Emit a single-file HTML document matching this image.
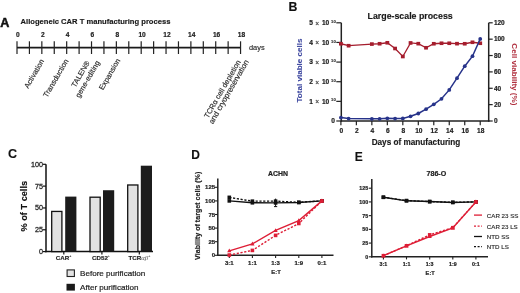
<!DOCTYPE html>
<html><head><meta charset="utf-8"><title>CAR T figure</title>
<style>
html,body{margin:0;padding:0;background:#fff;}
body{width:520px;height:293px;overflow:hidden;}
svg{display:block;font-family:"Liberation Sans", Arial, Helvetica, sans-serif;}
</style></head>
<body>
<svg width="520" height="293" viewBox="0 0 520 293">
<rect width="520" height="293" fill="#fff"/>
<text x="0.30" y="26.80" font-size="12.6" font-weight="bold" text-anchor="start" fill="#111" stroke="#111" stroke-width="0.5">A</text>
<text x="20.60" y="24.10" font-size="7.6" font-weight="bold" text-anchor="start" fill="#1a1a1a" stroke="#1a1a1a" stroke-width="0.15">Allogeneic CAR T manufacturing process</text>
<text x="17.90" y="37.20" font-size="6.6" font-weight="bold" text-anchor="middle" fill="#222" stroke="#222" stroke-width="0.2">0</text>
<text x="42.74" y="37.20" font-size="6.6" font-weight="bold" text-anchor="middle" fill="#222" stroke="#222" stroke-width="0.2">2</text>
<text x="67.58" y="37.20" font-size="6.6" font-weight="bold" text-anchor="middle" fill="#222" stroke="#222" stroke-width="0.2">4</text>
<text x="92.42" y="37.20" font-size="6.6" font-weight="bold" text-anchor="middle" fill="#222" stroke="#222" stroke-width="0.2">6</text>
<text x="117.26" y="37.20" font-size="6.6" font-weight="bold" text-anchor="middle" fill="#222" stroke="#222" stroke-width="0.2">8</text>
<text x="142.10" y="37.20" font-size="6.6" font-weight="bold" text-anchor="middle" fill="#222" stroke="#222" stroke-width="0.2">10</text>
<text x="166.94" y="37.20" font-size="6.6" font-weight="bold" text-anchor="middle" fill="#222" stroke="#222" stroke-width="0.2">12</text>
<text x="191.78" y="37.20" font-size="6.6" font-weight="bold" text-anchor="middle" fill="#222" stroke="#222" stroke-width="0.2">14</text>
<text x="216.62" y="37.20" font-size="6.6" font-weight="bold" text-anchor="middle" fill="#222" stroke="#222" stroke-width="0.2">16</text>
<text x="241.46" y="37.20" font-size="6.6" font-weight="bold" text-anchor="middle" fill="#222" stroke="#222" stroke-width="0.2">18</text>
<line x1="17.00" y1="47.60" x2="240.56" y2="47.60" stroke="#1a1a1a" stroke-width="1.6"/>
<line x1="17.00" y1="41.30" x2="17.00" y2="54.00" stroke="#222" stroke-width="1.2"/>
<line x1="29.42" y1="41.30" x2="29.42" y2="54.00" stroke="#222" stroke-width="1.2"/>
<line x1="41.84" y1="41.30" x2="41.84" y2="54.00" stroke="#222" stroke-width="1.2"/>
<line x1="54.26" y1="41.30" x2="54.26" y2="54.00" stroke="#222" stroke-width="1.2"/>
<line x1="66.68" y1="41.30" x2="66.68" y2="54.00" stroke="#222" stroke-width="1.2"/>
<line x1="79.10" y1="41.30" x2="79.10" y2="54.00" stroke="#222" stroke-width="1.2"/>
<line x1="91.52" y1="41.30" x2="91.52" y2="54.00" stroke="#222" stroke-width="1.2"/>
<line x1="103.94" y1="41.30" x2="103.94" y2="54.00" stroke="#222" stroke-width="1.2"/>
<line x1="116.36" y1="41.30" x2="116.36" y2="54.00" stroke="#222" stroke-width="1.2"/>
<line x1="128.78" y1="41.30" x2="128.78" y2="54.00" stroke="#222" stroke-width="1.2"/>
<line x1="141.20" y1="41.30" x2="141.20" y2="54.00" stroke="#222" stroke-width="1.2"/>
<line x1="153.62" y1="41.30" x2="153.62" y2="54.00" stroke="#222" stroke-width="1.2"/>
<line x1="166.04" y1="41.30" x2="166.04" y2="54.00" stroke="#222" stroke-width="1.2"/>
<line x1="178.46" y1="41.30" x2="178.46" y2="54.00" stroke="#222" stroke-width="1.2"/>
<line x1="190.88" y1="41.30" x2="190.88" y2="54.00" stroke="#222" stroke-width="1.2"/>
<line x1="203.30" y1="41.30" x2="203.30" y2="54.00" stroke="#222" stroke-width="1.2"/>
<line x1="215.72" y1="41.30" x2="215.72" y2="54.00" stroke="#222" stroke-width="1.2"/>
<line x1="228.14" y1="41.30" x2="228.14" y2="54.00" stroke="#222" stroke-width="1.2"/>
<line x1="240.56" y1="41.30" x2="240.56" y2="54.00" stroke="#222" stroke-width="1.2"/>
<text x="249.00" y="50.00" font-size="7.4" text-anchor="start" fill="#2a2a2a" stroke="#2a2a2a" stroke-width="0.15">days</text>
<text transform="translate(28.20,89.10) rotate(-60)" font-size="7.5" fill="#2a2a2a" stroke="#2a2a2a" stroke-width="0.15">Activation</text>
<text transform="translate(47.20,98.10) rotate(-60)" font-size="7.5" fill="#2a2a2a" stroke="#2a2a2a" stroke-width="0.15">Transduction</text>
<text transform="translate(75.50,87.90) rotate(-60)" font-size="7.5" fill="#2a2a2a" stroke="#2a2a2a" stroke-width="0.15">TALEN®</text>
<text transform="translate(79.50,98.20) rotate(-60)" font-size="7.5" fill="#2a2a2a" stroke="#2a2a2a" stroke-width="0.15">gene-editing</text>
<text transform="translate(103.00,90.60) rotate(-60)" font-size="7.5" fill="#2a2a2a" stroke="#2a2a2a" stroke-width="0.15">Expansion</text>
<text transform="translate(208.20,118.70) rotate(-60)" font-size="7.5" fill="#2a2a2a" stroke="#2a2a2a" stroke-width="0.15">TCRα cell depletion</text>
<text transform="translate(212.90,124.40) rotate(-60)" font-size="7.75" fill="#2a2a2a" stroke="#2a2a2a" stroke-width="0.15">and cryopreservation</text>
<text x="288.60" y="10.80" font-size="12.3" font-weight="bold" text-anchor="start" fill="#111" stroke="#111" stroke-width="0.15">B</text>
<text x="367.60" y="18.80" font-size="8.8" font-weight="bold" text-anchor="start" fill="#1a1a1a" stroke="#1a1a1a" stroke-width="0.15">Large-scale process</text>
<line x1="341.30" y1="22.80" x2="341.30" y2="121.70" stroke="#222" stroke-width="1.5"/>
<line x1="488.70" y1="22.80" x2="488.70" y2="121.70" stroke="#222" stroke-width="1.5"/>
<line x1="340.60" y1="121.00" x2="489.40" y2="121.00" stroke="#222" stroke-width="1.5"/>
<line x1="336.30" y1="121.00" x2="341.30" y2="121.00" stroke="#222" stroke-width="1.2"/>
<text x="334.80" y="123.30" font-size="6.6" font-weight="bold" text-anchor="end" fill="#222" stroke="#222" stroke-width="0.2">0</text>
<line x1="336.30" y1="101.36" x2="341.30" y2="101.36" stroke="#222" stroke-width="1.2"/>
<text x="311.20" y="103.66" font-size="6.6" font-weight="bold" text-anchor="middle" fill="#222" stroke="#222" stroke-width="0.2">1</text>
<text x="317.30" y="104.36" font-size="6.6" text-anchor="middle" fill="#333" stroke="#333" stroke-width="0.15">×</text>
<text x="325.60" y="103.66" font-size="6.6" font-weight="bold" text-anchor="middle" fill="#222" stroke="#222" stroke-width="0.2">10</text>
<text x="333.40" y="101.46" font-size="4.1" font-weight="bold" text-anchor="middle" fill="#222" stroke="#222" stroke-width="0.1">10</text>
<line x1="336.30" y1="81.72" x2="341.30" y2="81.72" stroke="#222" stroke-width="1.2"/>
<text x="311.20" y="84.02" font-size="6.6" font-weight="bold" text-anchor="middle" fill="#222" stroke="#222" stroke-width="0.2">2</text>
<text x="317.30" y="84.72" font-size="6.6" text-anchor="middle" fill="#333" stroke="#333" stroke-width="0.15">×</text>
<text x="325.60" y="84.02" font-size="6.6" font-weight="bold" text-anchor="middle" fill="#222" stroke="#222" stroke-width="0.2">10</text>
<text x="333.40" y="81.82" font-size="4.1" font-weight="bold" text-anchor="middle" fill="#222" stroke="#222" stroke-width="0.1">10</text>
<line x1="336.30" y1="62.08" x2="341.30" y2="62.08" stroke="#222" stroke-width="1.2"/>
<text x="311.20" y="64.38" font-size="6.6" font-weight="bold" text-anchor="middle" fill="#222" stroke="#222" stroke-width="0.2">3</text>
<text x="317.30" y="65.08" font-size="6.6" text-anchor="middle" fill="#333" stroke="#333" stroke-width="0.15">×</text>
<text x="325.60" y="64.38" font-size="6.6" font-weight="bold" text-anchor="middle" fill="#222" stroke="#222" stroke-width="0.2">10</text>
<text x="333.40" y="62.18" font-size="4.1" font-weight="bold" text-anchor="middle" fill="#222" stroke="#222" stroke-width="0.1">10</text>
<line x1="336.30" y1="42.44" x2="341.30" y2="42.44" stroke="#222" stroke-width="1.2"/>
<text x="311.20" y="44.74" font-size="6.6" font-weight="bold" text-anchor="middle" fill="#222" stroke="#222" stroke-width="0.2">4</text>
<text x="317.30" y="45.44" font-size="6.6" text-anchor="middle" fill="#333" stroke="#333" stroke-width="0.15">×</text>
<text x="325.60" y="44.74" font-size="6.6" font-weight="bold" text-anchor="middle" fill="#222" stroke="#222" stroke-width="0.2">10</text>
<text x="333.40" y="42.54" font-size="4.1" font-weight="bold" text-anchor="middle" fill="#222" stroke="#222" stroke-width="0.1">10</text>
<line x1="336.30" y1="22.80" x2="341.30" y2="22.80" stroke="#222" stroke-width="1.2"/>
<text x="311.20" y="25.10" font-size="6.6" font-weight="bold" text-anchor="middle" fill="#222" stroke="#222" stroke-width="0.2">5</text>
<text x="317.30" y="25.80" font-size="6.6" text-anchor="middle" fill="#333" stroke="#333" stroke-width="0.15">×</text>
<text x="325.60" y="25.10" font-size="6.6" font-weight="bold" text-anchor="middle" fill="#222" stroke="#222" stroke-width="0.2">10</text>
<text x="333.40" y="22.90" font-size="4.1" font-weight="bold" text-anchor="middle" fill="#222" stroke="#222" stroke-width="0.1">10</text>
<line x1="488.70" y1="121.00" x2="492.70" y2="121.00" stroke="#222" stroke-width="1.2"/>
<text x="493.90" y="123.30" font-size="6.5" font-weight="bold" text-anchor="start" fill="#222" stroke="#222" stroke-width="0.2">0</text>
<line x1="488.70" y1="104.63" x2="492.70" y2="104.63" stroke="#222" stroke-width="1.2"/>
<text x="493.90" y="106.93" font-size="6.5" font-weight="bold" text-anchor="start" fill="#222" stroke="#222" stroke-width="0.2">20</text>
<line x1="488.70" y1="88.27" x2="492.70" y2="88.27" stroke="#222" stroke-width="1.2"/>
<text x="493.90" y="90.57" font-size="6.5" font-weight="bold" text-anchor="start" fill="#222" stroke="#222" stroke-width="0.2">40</text>
<line x1="488.70" y1="71.90" x2="492.70" y2="71.90" stroke="#222" stroke-width="1.2"/>
<text x="493.90" y="74.20" font-size="6.5" font-weight="bold" text-anchor="start" fill="#222" stroke="#222" stroke-width="0.2">60</text>
<line x1="488.70" y1="55.53" x2="492.70" y2="55.53" stroke="#222" stroke-width="1.2"/>
<text x="493.90" y="57.83" font-size="6.5" font-weight="bold" text-anchor="start" fill="#222" stroke="#222" stroke-width="0.2">80</text>
<line x1="488.70" y1="39.17" x2="492.70" y2="39.17" stroke="#222" stroke-width="1.2"/>
<text x="493.90" y="41.47" font-size="6.5" font-weight="bold" text-anchor="start" fill="#222" stroke="#222" stroke-width="0.2">100</text>
<line x1="488.70" y1="22.80" x2="492.70" y2="22.80" stroke="#222" stroke-width="1.2"/>
<text x="493.90" y="25.10" font-size="6.5" font-weight="bold" text-anchor="start" fill="#222" stroke="#222" stroke-width="0.2">120</text>
<line x1="340.90" y1="121.00" x2="340.90" y2="125.20" stroke="#222" stroke-width="1.2"/>
<text x="341.40" y="133.20" font-size="6.6" font-weight="bold" text-anchor="middle" fill="#222" stroke="#222" stroke-width="0.2">0</text>
<line x1="356.38" y1="121.00" x2="356.38" y2="125.20" stroke="#222" stroke-width="1.2"/>
<text x="356.88" y="133.20" font-size="6.6" font-weight="bold" text-anchor="middle" fill="#222" stroke="#222" stroke-width="0.2">2</text>
<line x1="371.86" y1="121.00" x2="371.86" y2="125.20" stroke="#222" stroke-width="1.2"/>
<text x="372.36" y="133.20" font-size="6.6" font-weight="bold" text-anchor="middle" fill="#222" stroke="#222" stroke-width="0.2">4</text>
<line x1="387.34" y1="121.00" x2="387.34" y2="125.20" stroke="#222" stroke-width="1.2"/>
<text x="387.84" y="133.20" font-size="6.6" font-weight="bold" text-anchor="middle" fill="#222" stroke="#222" stroke-width="0.2">6</text>
<line x1="402.82" y1="121.00" x2="402.82" y2="125.20" stroke="#222" stroke-width="1.2"/>
<text x="403.32" y="133.20" font-size="6.6" font-weight="bold" text-anchor="middle" fill="#222" stroke="#222" stroke-width="0.2">8</text>
<line x1="418.30" y1="121.00" x2="418.30" y2="125.20" stroke="#222" stroke-width="1.2"/>
<text x="418.80" y="133.20" font-size="6.6" font-weight="bold" text-anchor="middle" fill="#222" stroke="#222" stroke-width="0.2">10</text>
<line x1="433.78" y1="121.00" x2="433.78" y2="125.20" stroke="#222" stroke-width="1.2"/>
<text x="434.28" y="133.20" font-size="6.6" font-weight="bold" text-anchor="middle" fill="#222" stroke="#222" stroke-width="0.2">12</text>
<line x1="449.26" y1="121.00" x2="449.26" y2="125.20" stroke="#222" stroke-width="1.2"/>
<text x="449.76" y="133.20" font-size="6.6" font-weight="bold" text-anchor="middle" fill="#222" stroke="#222" stroke-width="0.2">14</text>
<line x1="464.74" y1="121.00" x2="464.74" y2="125.20" stroke="#222" stroke-width="1.2"/>
<text x="465.24" y="133.20" font-size="6.6" font-weight="bold" text-anchor="middle" fill="#222" stroke="#222" stroke-width="0.2">16</text>
<line x1="480.22" y1="121.00" x2="480.22" y2="125.20" stroke="#222" stroke-width="1.2"/>
<text x="480.72" y="133.20" font-size="6.6" font-weight="bold" text-anchor="middle" fill="#222" stroke="#222" stroke-width="0.2">18</text>
<text x="416.00" y="144.60" font-size="8.2" font-weight="bold" text-anchor="middle" fill="#1a1a1a" stroke="#1a1a1a" stroke-width="0.15">Days of manufacturing</text>
<text transform="translate(302.0,70.5) rotate(-90)" font-size="8.1" font-weight="bold" text-anchor="middle" fill="#3a449e" stroke="#3a449e" stroke-width="0.05">Total viable cells</text>
<text transform="translate(511.8,74.4) rotate(90)" font-size="8.1" font-weight="bold" text-anchor="middle" fill="#b0303f">Cell viability (%)</text>
<polyline points="340.90,43.75 348.64,45.71 371.86,44.08 379.60,43.75 387.34,42.77 395.08,48.50 402.82,56.52 410.56,42.93 418.30,43.67 426.04,47.76 433.78,43.75 441.52,43.26 449.26,43.26 457.00,43.67 464.74,43.75 472.48,42.28 480.22,43.26" fill="none" stroke="#a51d2d" stroke-width="1.3"/>
<rect x="339.00" y="41.95" width="3.8" height="3.6" fill="#a51d2d"/>
<rect x="346.74" y="43.91" width="3.8" height="3.6" fill="#a51d2d"/>
<rect x="369.96" y="42.28" width="3.8" height="3.6" fill="#a51d2d"/>
<rect x="377.70" y="41.95" width="3.8" height="3.6" fill="#a51d2d"/>
<rect x="385.44" y="40.97" width="3.8" height="3.6" fill="#a51d2d"/>
<rect x="393.18" y="46.70" width="3.8" height="3.6" fill="#a51d2d"/>
<rect x="400.92" y="54.72" width="3.8" height="3.6" fill="#a51d2d"/>
<rect x="408.66" y="41.13" width="3.8" height="3.6" fill="#a51d2d"/>
<rect x="416.40" y="41.87" width="3.8" height="3.6" fill="#a51d2d"/>
<rect x="424.14" y="45.96" width="3.8" height="3.6" fill="#a51d2d"/>
<rect x="431.88" y="41.95" width="3.8" height="3.6" fill="#a51d2d"/>
<rect x="439.62" y="41.46" width="3.8" height="3.6" fill="#a51d2d"/>
<rect x="447.36" y="41.46" width="3.8" height="3.6" fill="#a51d2d"/>
<rect x="455.10" y="41.87" width="3.8" height="3.6" fill="#a51d2d"/>
<rect x="462.84" y="41.95" width="3.8" height="3.6" fill="#a51d2d"/>
<rect x="470.58" y="40.48" width="3.8" height="3.6" fill="#a51d2d"/>
<rect x="478.32" y="41.46" width="3.8" height="3.6" fill="#a51d2d"/>
<polyline points="340.90,117.60 348.64,118.60 371.86,118.80 379.60,118.80 387.34,118.30 395.08,118.60 402.82,118.40 410.56,116.30 418.30,113.50 426.04,109.20 433.78,104.30 441.52,98.80 449.26,89.90 457.00,78.20 464.74,66.20 472.48,56.20 480.22,38.90" fill="none" stroke="#27338a" stroke-width="1.5"/>
<circle cx="340.90" cy="117.60" r="1.9" fill="#27338a"/>
<circle cx="348.64" cy="118.60" r="1.9" fill="#27338a"/>
<circle cx="371.86" cy="118.80" r="1.9" fill="#27338a"/>
<circle cx="379.60" cy="118.80" r="1.9" fill="#27338a"/>
<circle cx="387.34" cy="118.30" r="1.9" fill="#27338a"/>
<circle cx="395.08" cy="118.60" r="1.9" fill="#27338a"/>
<circle cx="402.82" cy="118.40" r="1.9" fill="#27338a"/>
<circle cx="410.56" cy="116.30" r="1.9" fill="#27338a"/>
<circle cx="418.30" cy="113.50" r="1.9" fill="#27338a"/>
<circle cx="426.04" cy="109.20" r="1.9" fill="#27338a"/>
<circle cx="433.78" cy="104.30" r="1.9" fill="#27338a"/>
<circle cx="441.52" cy="98.80" r="1.9" fill="#27338a"/>
<circle cx="449.26" cy="89.90" r="1.9" fill="#27338a"/>
<circle cx="457.00" cy="78.20" r="1.9" fill="#27338a"/>
<circle cx="464.74" cy="66.20" r="1.9" fill="#27338a"/>
<circle cx="472.48" cy="56.20" r="1.9" fill="#27338a"/>
<circle cx="480.22" cy="38.90" r="1.9" fill="#27338a"/>
<text x="7.90" y="158.40" font-size="12.6" font-weight="bold" text-anchor="start" fill="#111" stroke="#111" stroke-width="0.1">C</text>
<line x1="46.00" y1="164.30" x2="46.00" y2="252.35" stroke="#111" stroke-width="1.5"/>
<line x1="45.25" y1="251.60" x2="153.00" y2="251.60" stroke="#111" stroke-width="1.5"/>
<line x1="42.70" y1="251.60" x2="46.00" y2="251.60" stroke="#111" stroke-width="1.2"/>
<text transform="translate(43.10,254.00) scale(1.06,1)" font-size="6.8" text-anchor="end" fill="#222" stroke="#222" stroke-width="0.25">0</text>
<line x1="42.70" y1="229.78" x2="46.00" y2="229.78" stroke="#111" stroke-width="1.2"/>
<text transform="translate(43.10,232.18) scale(1.06,1)" font-size="6.8" text-anchor="end" fill="#222" stroke="#222" stroke-width="0.25">25</text>
<line x1="42.70" y1="207.95" x2="46.00" y2="207.95" stroke="#111" stroke-width="1.2"/>
<text transform="translate(43.10,210.35) scale(1.06,1)" font-size="6.8" text-anchor="end" fill="#222" stroke="#222" stroke-width="0.25">50</text>
<line x1="42.70" y1="186.12" x2="46.00" y2="186.12" stroke="#111" stroke-width="1.2"/>
<text transform="translate(43.10,188.53) scale(1.06,1)" font-size="6.8" text-anchor="end" fill="#222" stroke="#222" stroke-width="0.25">75</text>
<line x1="42.70" y1="164.30" x2="46.00" y2="164.30" stroke="#111" stroke-width="1.2"/>
<text transform="translate(43.10,166.70) scale(1.06,1)" font-size="6.8" text-anchor="end" fill="#222" stroke="#222" stroke-width="0.25">100</text>
<rect x="51.70" y="211.43" width="10.2" height="40.17" fill="#e2e2e2" stroke="#111" stroke-width="1.3"/>
<rect x="65.20" y="196.60" width="11.2" height="55.00" fill="#1c1c1c"/>
<rect x="90.00" y="197.20" width="10.2" height="54.40" fill="#e2e2e2" stroke="#111" stroke-width="1.3"/>
<rect x="103.00" y="190.23" width="11.2" height="61.37" fill="#1c1c1c"/>
<rect x="127.70" y="184.98" width="10.2" height="66.62" fill="#e2e2e2" stroke="#111" stroke-width="1.3"/>
<rect x="140.80" y="165.70" width="11.2" height="85.90" fill="#1c1c1c"/>
<line x1="63.80" y1="251.60" x2="63.80" y2="254.60" stroke="#111" stroke-width="1.2"/>
<line x1="101.90" y1="251.60" x2="101.90" y2="254.60" stroke="#111" stroke-width="1.2"/>
<line x1="139.30" y1="251.60" x2="139.30" y2="254.60" stroke="#111" stroke-width="1.2"/>
<text x="63.6" y="260.1" font-size="6.2" font-weight="bold" text-anchor="middle" fill="#222" stroke="#222" stroke-width="0.15">CAR<tspan font-size="3.6" dy="-3.4" stroke-width="0">+</tspan></text>
<text x="101.0" y="260.1" font-size="6.2" font-weight="bold" text-anchor="middle" fill="#222" stroke="#222" stroke-width="0.15">CD52<tspan font-size="3.6" dy="-3.4" stroke-width="0" fill="#666">+</tspan></text>
<text x="139.4" y="260.1" font-size="6.2" font-weight="bold" text-anchor="middle" fill="#222" stroke="#222" stroke-width="0.15">TCR<tspan font-weight="normal" font-family="Liberation Serif" font-style="italic" font-size="6.8" stroke-width="0" fill="#555">αβ</tspan><tspan font-size="3.6" dy="-3.4" stroke-width="0" fill="#666">+</tspan></text>
<text transform="translate(27.0,206.2) rotate(-90)" font-size="9.2" font-weight="bold" text-anchor="middle" fill="#111" stroke="#111" stroke-width="0.15">% of T cells</text>
<rect x="67.1" y="269.9" width="7.3" height="6.6" fill="#e3e3e3" stroke="#222" stroke-width="1.1"/>
<rect x="66.5" y="283.8" width="8.4" height="6.8" fill="#1a1a1a"/>
<text x="80.00" y="276.00" font-size="8.1" text-anchor="start" fill="#222" stroke="#222" stroke-width="0.2">Before purification</text>
<text x="80.00" y="289.90" font-size="8.1" text-anchor="start" fill="#222" stroke="#222" stroke-width="0.2">After purification</text>
<text x="191.30" y="159.30" font-size="12.0" font-weight="bold" text-anchor="start" fill="#111" stroke="#111" stroke-width="0.1">D</text>
<text x="278.00" y="175.80" font-size="6.9" font-weight="bold" text-anchor="middle" fill="#222" stroke="#222" stroke-width="0.2">ACHN</text>
<line x1="217.80" y1="178.50" x2="217.80" y2="256.05" stroke="#222" stroke-width="1.5"/>
<line x1="217.05" y1="255.30" x2="333.50" y2="255.30" stroke="#222" stroke-width="1.5"/>
<line x1="214.80" y1="255.30" x2="217.80" y2="255.30" stroke="#222" stroke-width="1.1"/>
<text x="215.10" y="257.46" font-size="6.0" font-weight="bold" text-anchor="end" fill="#222" stroke="#222" stroke-width="0.2">0</text>
<line x1="214.80" y1="241.70" x2="217.80" y2="241.70" stroke="#222" stroke-width="1.1"/>
<text x="215.10" y="243.86" font-size="6.0" font-weight="bold" text-anchor="end" fill="#222" stroke="#222" stroke-width="0.2">25</text>
<line x1="214.80" y1="228.10" x2="217.80" y2="228.10" stroke="#222" stroke-width="1.1"/>
<text x="215.10" y="230.26" font-size="6.0" font-weight="bold" text-anchor="end" fill="#222" stroke="#222" stroke-width="0.2">50</text>
<line x1="214.80" y1="214.50" x2="217.80" y2="214.50" stroke="#222" stroke-width="1.1"/>
<text x="215.10" y="216.66" font-size="6.0" font-weight="bold" text-anchor="end" fill="#222" stroke="#222" stroke-width="0.2">75</text>
<line x1="214.80" y1="200.90" x2="217.80" y2="200.90" stroke="#222" stroke-width="1.1"/>
<text x="215.10" y="203.06" font-size="6.0" font-weight="bold" text-anchor="end" fill="#222" stroke="#222" stroke-width="0.2">100</text>
<line x1="214.80" y1="187.30" x2="217.80" y2="187.30" stroke="#222" stroke-width="1.1"/>
<text x="215.10" y="189.46" font-size="6.0" font-weight="bold" text-anchor="end" fill="#222" stroke="#222" stroke-width="0.2">125</text>
<line x1="229.30" y1="255.30" x2="229.30" y2="257.90" stroke="#222" stroke-width="1.1"/>
<text x="229.30" y="264.90" font-size="6.0" font-weight="bold" text-anchor="middle" fill="#222" stroke="#222" stroke-width="0.2">3:1</text>
<line x1="252.40" y1="255.30" x2="252.40" y2="257.90" stroke="#222" stroke-width="1.1"/>
<text x="252.40" y="264.90" font-size="6.0" font-weight="bold" text-anchor="middle" fill="#222" stroke="#222" stroke-width="0.2">1:1</text>
<line x1="275.60" y1="255.30" x2="275.60" y2="257.90" stroke="#222" stroke-width="1.1"/>
<text x="275.60" y="264.90" font-size="6.0" font-weight="bold" text-anchor="middle" fill="#222" stroke="#222" stroke-width="0.2">1:3</text>
<line x1="298.80" y1="255.30" x2="298.80" y2="257.90" stroke="#222" stroke-width="1.1"/>
<text x="298.80" y="264.90" font-size="6.0" font-weight="bold" text-anchor="middle" fill="#222" stroke="#222" stroke-width="0.2">1:9</text>
<line x1="321.90" y1="255.30" x2="321.90" y2="257.90" stroke="#222" stroke-width="1.1"/>
<text x="321.90" y="264.90" font-size="6.0" font-weight="bold" text-anchor="middle" fill="#222" stroke="#222" stroke-width="0.2">0:1</text>
<text x="276.10" y="274.30" font-size="5.9" font-weight="bold" text-anchor="middle" fill="#222" stroke="#222" stroke-width="0.2">E:T</text>
<text transform="translate(199.6,215.8) rotate(-90)" font-size="7.1" font-weight="bold" text-anchor="middle" fill="#1a1a1a" stroke="#1a1a1a" stroke-width="0.15">Viability of target cells (%)</text>
<polyline points="229.30,197.36 252.40,201.17 275.60,201.17 298.80,202.26 321.90,200.90" fill="none" stroke="#111" stroke-width="1.4" stroke-dasharray="2.2,1.6"/>
<rect x="227.50" y="195.56" width="3.6" height="3.6" fill="#111"/>
<rect x="250.60" y="199.37" width="3.6" height="3.6" fill="#111"/>
<rect x="273.80" y="199.37" width="3.6" height="3.6" fill="#111"/>
<rect x="297.00" y="200.46" width="3.6" height="3.6" fill="#111"/>
<rect x="320.10" y="199.10" width="3.6" height="3.6" fill="#111"/>
<polyline points="229.30,200.90 252.40,202.80 275.60,202.91 298.80,202.53 321.90,200.90" fill="none" stroke="#111" stroke-width="1.4"/>
<rect x="227.50" y="199.10" width="3.6" height="3.6" fill="#111"/>
<rect x="250.60" y="201.00" width="3.6" height="3.6" fill="#111"/>
<rect x="273.80" y="201.11" width="3.6" height="3.6" fill="#111"/>
<rect x="297.00" y="200.73" width="3.6" height="3.6" fill="#111"/>
<rect x="320.10" y="199.10" width="3.6" height="3.6" fill="#111"/>
<polyline points="229.30,255.03 252.40,250.40 275.60,235.39 298.80,223.48 321.90,200.90" fill="none" stroke="#de1e36" stroke-width="1.4" stroke-dasharray="2.2,1.6"/>
<rect x="227.50" y="253.23" width="3.6" height="3.6" fill="#de1e36"/>
<rect x="250.60" y="248.60" width="3.6" height="3.6" fill="#de1e36"/>
<rect x="273.80" y="233.59" width="3.6" height="3.6" fill="#de1e36"/>
<rect x="297.00" y="221.68" width="3.6" height="3.6" fill="#de1e36"/>
<rect x="320.10" y="199.10" width="3.6" height="3.6" fill="#de1e36"/>
<polyline points="229.30,250.84 252.40,243.88 275.60,230.44 298.80,220.65 321.90,200.90" fill="none" stroke="#de1e36" stroke-width="1.4"/>
<polygon points="229.30,248.54 231.40,252.34 227.20,252.34" fill="#de1e36"/>
<polygon points="252.40,241.58 254.50,245.38 250.30,245.38" fill="#de1e36"/>
<polygon points="275.60,228.14 277.70,231.94 273.50,231.94" fill="#de1e36"/>
<polygon points="298.80,218.35 300.90,222.15 296.70,222.15" fill="#de1e36"/>
<polygon points="321.90,198.60 324.00,202.40 319.80,202.40" fill="#de1e36"/>
<text x="354.70" y="160.80" font-size="12.0" font-weight="bold" text-anchor="start" fill="#111" stroke="#111" stroke-width="0.1">E</text>
<text x="436.40" y="176.40" font-size="7.1" font-weight="bold" text-anchor="middle" fill="#222" stroke="#222" stroke-width="0.2">786-O</text>
<line x1="371.80" y1="179.10" x2="371.80" y2="257.55" stroke="#222" stroke-width="1.5"/>
<line x1="371.05" y1="256.80" x2="488.00" y2="256.80" stroke="#222" stroke-width="1.5"/>
<line x1="368.80" y1="256.80" x2="371.80" y2="256.80" stroke="#222" stroke-width="1.1"/>
<text x="368.20" y="258.71" font-size="5.3" font-weight="bold" text-anchor="end" fill="#222" stroke="#222" stroke-width="0.2">0</text>
<line x1="368.80" y1="243.08" x2="371.80" y2="243.08" stroke="#222" stroke-width="1.1"/>
<text x="368.20" y="244.99" font-size="5.3" font-weight="bold" text-anchor="end" fill="#222" stroke="#222" stroke-width="0.2">25</text>
<line x1="368.80" y1="229.36" x2="371.80" y2="229.36" stroke="#222" stroke-width="1.1"/>
<text x="368.20" y="231.27" font-size="5.3" font-weight="bold" text-anchor="end" fill="#222" stroke="#222" stroke-width="0.2">50</text>
<line x1="368.80" y1="215.64" x2="371.80" y2="215.64" stroke="#222" stroke-width="1.1"/>
<text x="368.20" y="217.55" font-size="5.3" font-weight="bold" text-anchor="end" fill="#222" stroke="#222" stroke-width="0.2">75</text>
<line x1="368.80" y1="201.92" x2="371.80" y2="201.92" stroke="#222" stroke-width="1.1"/>
<text x="368.20" y="203.83" font-size="5.3" font-weight="bold" text-anchor="end" fill="#222" stroke="#222" stroke-width="0.2">100</text>
<line x1="368.80" y1="188.20" x2="371.80" y2="188.20" stroke="#222" stroke-width="1.1"/>
<text x="368.20" y="190.11" font-size="5.3" font-weight="bold" text-anchor="end" fill="#222" stroke="#222" stroke-width="0.2">125</text>
<line x1="383.40" y1="256.80" x2="383.40" y2="259.40" stroke="#222" stroke-width="1.1"/>
<text x="383.40" y="266.30" font-size="5.3" font-weight="bold" text-anchor="middle" fill="#222" stroke="#222" stroke-width="0.2">3:1</text>
<line x1="406.50" y1="256.80" x2="406.50" y2="259.40" stroke="#222" stroke-width="1.1"/>
<text x="406.50" y="266.30" font-size="5.3" font-weight="bold" text-anchor="middle" fill="#222" stroke="#222" stroke-width="0.2">1:1</text>
<line x1="429.70" y1="256.80" x2="429.70" y2="259.40" stroke="#222" stroke-width="1.1"/>
<text x="429.70" y="266.30" font-size="5.3" font-weight="bold" text-anchor="middle" fill="#222" stroke="#222" stroke-width="0.2">1:3</text>
<line x1="452.80" y1="256.80" x2="452.80" y2="259.40" stroke="#222" stroke-width="1.1"/>
<text x="452.80" y="266.30" font-size="5.3" font-weight="bold" text-anchor="middle" fill="#222" stroke="#222" stroke-width="0.2">1:9</text>
<line x1="475.90" y1="256.80" x2="475.90" y2="259.40" stroke="#222" stroke-width="1.1"/>
<text x="475.90" y="266.30" font-size="5.3" font-weight="bold" text-anchor="middle" fill="#222" stroke="#222" stroke-width="0.2">0:1</text>
<text x="430.20" y="275.00" font-size="5.7" font-weight="bold" text-anchor="middle" fill="#222" stroke="#222" stroke-width="0.2">E:T</text>
<polyline points="383.40,197.26 406.50,200.55 429.70,201.65 452.80,202.30 475.90,201.92" fill="none" stroke="#111" stroke-width="1.4" stroke-dasharray="2.2,1.6"/>
<rect x="381.60" y="195.46" width="3.6" height="3.6" fill="#111"/>
<rect x="404.70" y="198.75" width="3.6" height="3.6" fill="#111"/>
<rect x="427.90" y="199.85" width="3.6" height="3.6" fill="#111"/>
<rect x="451.00" y="200.50" width="3.6" height="3.6" fill="#111"/>
<rect x="474.10" y="200.12" width="3.6" height="3.6" fill="#111"/>
<polyline points="383.40,197.26 406.50,200.82 429.70,201.54 452.80,202.47 475.90,201.92" fill="none" stroke="#111" stroke-width="1.4"/>
<rect x="381.60" y="195.46" width="3.6" height="3.6" fill="#111"/>
<rect x="404.70" y="199.02" width="3.6" height="3.6" fill="#111"/>
<rect x="427.90" y="199.74" width="3.6" height="3.6" fill="#111"/>
<rect x="451.00" y="200.67" width="3.6" height="3.6" fill="#111"/>
<rect x="474.10" y="200.12" width="3.6" height="3.6" fill="#111"/>
<polyline points="383.40,255.70 406.50,245.82 429.70,234.85 452.80,227.71 475.90,201.92" fill="none" stroke="#de1e36" stroke-width="1.4" stroke-dasharray="2.2,1.6"/>
<rect x="381.60" y="253.90" width="3.6" height="3.6" fill="#de1e36"/>
<rect x="404.70" y="244.02" width="3.6" height="3.6" fill="#de1e36"/>
<rect x="427.90" y="233.05" width="3.6" height="3.6" fill="#de1e36"/>
<rect x="451.00" y="225.91" width="3.6" height="3.6" fill="#de1e36"/>
<rect x="474.10" y="200.12" width="3.6" height="3.6" fill="#de1e36"/>
<polyline points="383.40,255.70 406.50,245.82 429.70,236.49 452.80,227.99 475.90,201.92" fill="none" stroke="#de1e36" stroke-width="1.4"/>
<polygon points="383.40,253.40 385.50,257.20 381.30,257.20" fill="#de1e36"/>
<polygon points="406.50,243.52 408.60,247.32 404.40,247.32" fill="#de1e36"/>
<polygon points="429.70,234.19 431.80,237.99 427.60,237.99" fill="#de1e36"/>
<polygon points="452.80,225.69 454.90,229.49 450.70,229.49" fill="#de1e36"/>
<polygon points="475.90,199.62 478.00,203.42 473.80,203.42" fill="#de1e36"/>
<line x1="275.60" y1="198.60" x2="275.60" y2="206.60" stroke="#111" stroke-width="1.0"/>
<line x1="274.00" y1="206.60" x2="277.20" y2="206.60" stroke="#111" stroke-width="1.0"/>
<line x1="474.0" y1="215.10" x2="482.0" y2="215.10" stroke="#de1e36" stroke-width="1.3"/>
<text x="486.80" y="217.70" font-size="6.2" text-anchor="start" fill="#2a2a2a" stroke="#2a2a2a" stroke-width="0.15">CAR 23 SS</text>
<line x1="474.0" y1="226.20" x2="482.0" y2="226.20" stroke="#de1e36" stroke-width="1.3" stroke-dasharray="2,1.6"/>
<text x="486.80" y="228.80" font-size="6.2" text-anchor="start" fill="#2a2a2a" stroke="#2a2a2a" stroke-width="0.15">CAR 23 LS</text>
<line x1="474.0" y1="236.50" x2="482.0" y2="236.50" stroke="#111" stroke-width="1.3"/>
<text x="486.80" y="239.10" font-size="6.2" text-anchor="start" fill="#2a2a2a" stroke="#2a2a2a" stroke-width="0.15">NTD SS</text>
<line x1="474.0" y1="246.70" x2="482.0" y2="246.70" stroke="#111" stroke-width="1.3" stroke-dasharray="2,1.6"/>
<text x="486.80" y="249.30" font-size="6.2" text-anchor="start" fill="#2a2a2a" stroke="#2a2a2a" stroke-width="0.15">NTD LS</text>
</svg>
</body></html>
